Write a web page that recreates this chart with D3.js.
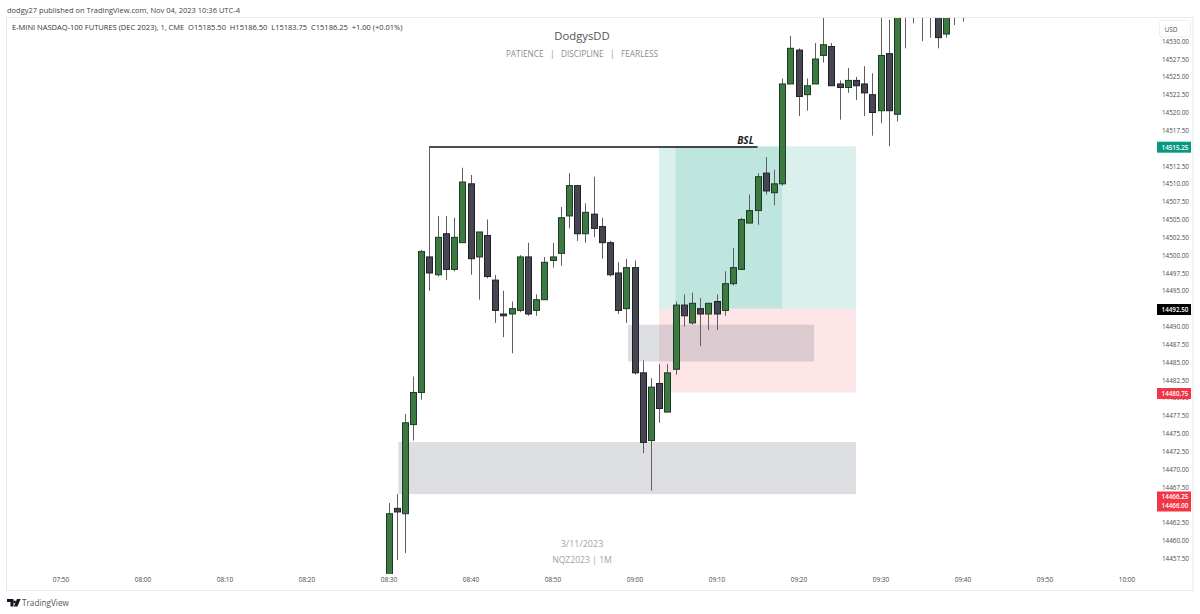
<!DOCTYPE html>
<html><head><meta charset="utf-8">
<script src="https://cdn.jsdelivr.net/npm/d3@7/dist/d3.min.js"></script>
<style>html,body{margin:0;padding:0;background:#fff;overflow:hidden}svg{display:block}text{font-family:"Open Sans",sans-serif}</style>
</head><body><svg id="c" width="1200" height="614"></svg>
<script>
const startMinute = 510; // 08:30
const opens = [14455,14464.5,14463.75,14476.25,14480.75,14499.75,14497.25,14503,14498,14501.75,14510,14499.75,14502.75,14496.5,14491.75,14491.75,14492.25,14499.75,14492.25,14493.75,14499.25,14500.25,14505.5,14509.75,14503,14505.75,14504,14501.75,14497.5,14492.5,14498.25,14483.5,14474,14482,14478,14484,14493,14490.5,14492.5,14491.75,14493.5,14492.25,14496,14498,14504.5,14506.25,14511.5,14508.75,14510,14524,14528.75,14522.5,14524,14528,14529.25,14524,14523.5,14524.5,14524,14522.5,14520.25,14528.25,14519.75,14537,14534,14535,14534.5,14535,14531,14534,14536];
const highs = [14465.25,14466.5,14477.75,14483,14500.75,14515.25,14505.5,14505.5,14505.25,14512.25,14511.25,14503.25,14505,14497.25,14495,14493.5,14500,14501.75,14494.5,14499.75,14501.75,14506.75,14511.5,14509.75,14507.25,14511,14505.25,14502,14499,14499.5,14499.25,14485.25,14482.75,14484.75,14484.75,14493.5,14494.5,14494.75,14494,14493.25,14494.5,14497.75,14501,14505.25,14508.5,14511.5,14513.75,14512,14524.75,14530.75,14529,14524.75,14529.75,14534,14529.75,14524.5,14526.25,14525,14526.5,14525.5,14536,14533,14538,14538,14537,14537,14537,14536,14536,14537,14537];
const lows = [14453,14457.25,14458.25,14474,14479.75,14495,14497,14496.5,14497.75,14501.75,14497.25,14493.75,14496.75,14490.5,14488.5,14486.25,14492,14491.5,14491.5,14493.75,14498.25,14498.5,14503.75,14502,14501.75,14502.5,14499.5,14497,14491.75,14490.5,14483.25,14472.25,14467,14476.5,14478,14483.25,14490,14490.25,14487.25,14489.5,14489.5,14491.5,14495.75,14498,14504.5,14504.25,14508.5,14507,14509.75,14524,14519.5,14520.25,14524,14527,14523.75,14519,14522.75,14521.75,14519.5,14516.75,14518.5,14515.25,14518.75,14529,14532.5,14530,14530.5,14529,14530.5,14532.25,14532.75];
const closes = [14463.75,14464,14476.5,14480.75,14500.5,14497.5,14502.5,14498,14502.5,14510.25,14499.5,14503.25,14497,14492.25,14491.5,14492.5,14499.75,14491.75,14493.75,14499,14499.75,14505.25,14509.75,14503,14506,14503.75,14501.75,14497.25,14492.25,14498.25,14483.5,14473.75,14481.5,14478.5,14483.5,14493,14491.5,14493.25,14491.75,14493.25,14491.75,14496,14498.25,14505,14506.25,14511,14509,14510,14524,14529,14522.25,14523.75,14527.5,14529.5,14523.75,14523.5,14524.5,14523.75,14522.75,14520,14528,14520.25,14536,14534.5,14536,14536.5,14536,14530.5,14535,14536,14534];

const priceTicks = [14530,14527.5,14525,14522.5,14520,14517.5,14512.5,14510,14507.5,14505,14502.5,14500,14497.5,14495,14490,14487.5,14485,14482.5,14480,14477.5,14475,14472.5,14470,14467.5,14462.5,14460,14457.5];
const timeTicks = [470,480,490,500,510,520,530,540,550,560,570,580,590,600];

// zones: [fromMinute, toMinute, topPrice, bottomPrice]
const profitZone = [543,567,14515.25,14492.5];
const profitInner = [545,558,14515.25,14492.5];
const stopZone = [543,567,14492.5,14480.75];
const greyZoneA = [539.2,561.9,14490.25,14485.1];
const greyZoneB = [511.2,567,14473.8,14466.5];
const bslLine = [515,555,14515.25];

const priceTags = [[14515.25,"#089981",147.2],[14492.5,"#000000",309.5],[14480.75,"#f23645",393.5],[14466.25,"#f23645",497],[14466,"#f23645",506]];

const svg = d3.select("#c");
const x = d3.scaleLinear().domain([510,600]).range([388.5,1126.5]);
const y = d3.scaleLinear().domain([14527.5,14457.5]).range([59,558.3]);

// frame
svg.append("rect").attr("x",6.5).attr("y",17.5).attr("width",1186.5).attr("height",573).attr("fill","#fff").attr("stroke","#e9e9ec");

const defs = svg.append("defs");
defs.append("clipPath").attr("id","pane").append("rect").attr("x",7).attr("y",18).attr("width",1150).attr("height",556);
const pane = svg.append("g").attr("clip-path","url(#pane)");

function zone(z,fill){
  pane.append("rect").attr("x",x(z[0])).attr("width",x(z[1])-x(z[0])).attr("y",y(z[2])).attr("height",y(z[3])-y(z[2])).attr("fill",fill);
}
zone(greyZoneB,"rgba(120,123,134,0.25)");
zone(profitZone,"rgba(8,153,129,0.15)");
zone(profitInner,"rgba(8,153,129,0.13)");
zone(stopZone,"rgba(242,54,69,0.13)");
zone(greyZoneA,"rgba(120,123,134,0.25)");

const candles = opens.map((o,i)=>({t:startMinute+i,o,h:highs[i],l:lows[i],c:closes[i]}));
const g = pane.selectAll("g.c").data(candles).join("g").attr("class","c");
g.append("line").attr("x1",d=>Math.round(x(d.t))+.5).attr("x2",d=>Math.round(x(d.t))+.5)
 .attr("y1",d=>y(d.h)).attr("y2",d=>y(d.l)).attr("stroke","#606064").attr("stroke-width",1);
g.append("rect").attr("x",d=>Math.round(x(d.t))-2.5).attr("width",6)
 .attr("y",d=>y(Math.max(d.o,d.c))).attr("height",d=>Math.max(1.5,Math.abs(y(d.o)-y(d.c))))
 .attr("fill",d=>d.c>=d.o?"#3c7a41":"#454652").attr("stroke",d=>d.c>=d.o?"#1f3a24":"#1f1f28").attr("stroke-width",1);

pane.append("line").attr("x1",x(bslLine[0])).attr("x2",x(bslLine[1])).attr("y1",y(bslLine[2])+.5).attr("y2",y(bslLine[2])+.5).attr("stroke","#111").attr("stroke-width",1.5);
pane.append("text").attr("x",745.5).attr("y",144).attr("text-anchor","middle").attr("font-size",10).attr("font-weight",700).attr("font-style","italic").attr("fill","#222").text("BSL");

// watermark
const wm = [["DodgysDD",582,40,11.3,"#555"],["PATIENCE   |   DISCIPLINE   |   FEARLESS",582,57,8.25,"#8b8b92"],["3/11/2023",582,547,9,"#a2a2a8"],["NQZ2023 | 1M",582,563,8.6,"#a2a2a8"]];
wm.forEach(w=>svg.append("text").attr("x",w[1]).attr("y",w[2]).attr("text-anchor","middle").attr("font-size",w[3]).attr("fill",w[4]).style("white-space","pre").text(w[0]));

// axes
const fmtTime = m => String(Math.floor(m/60)).padStart(2,"0")+":"+String(m%60).padStart(2,"0");
const ax = svg.append("g").attr("transform","translate(0,574)").call(d3.axisBottom(x).tickValues(timeTicks).tickFormat(fmtTime).tickSize(0).tickPadding(3));
ax.select(".domain").remove();
ax.selectAll("text").attr("font-size",6.5).attr("fill","#4a4a50").style("font-family","'Open Sans',sans-serif");
const ay = svg.append("g").attr("transform","translate(1162,0)").call(d3.axisRight(y).tickValues(priceTicks).tickFormat(d3.format(".2f")).tickSize(0).tickPadding(0));
ay.select(".domain").remove();
ay.selectAll("text").attr("font-size",6.3).attr("fill","#4a4a50").style("font-family","'Open Sans',sans-serif");

// USD box sits over the top tick, as in the platform
svg.append("rect").attr("x",1158).attr("y",19).attr("width",34).attr("height",19.5).attr("fill","#fff");
svg.append("rect").attr("x",1159.5).attr("y",20.5).attr("width",31).attr("height",16.5).attr("rx",2).attr("fill","#fff").attr("stroke","#eceef0");
svg.append("text").attr("x",1171).attr("y",31.5).attr("text-anchor","middle").attr("font-size",6.5).attr("fill","#555").text("USD");

// tags
priceTags.forEach(t=>{
  svg.append("rect").attr("x",1157).attr("y",t[2]-5.5).attr("width",34).attr("height",11).attr("fill",t[1]);
  svg.append("text").attr("x",1175).attr("y",t[2]+2.3).attr("text-anchor","middle").attr("font-size",6.3).attr("font-weight",600).attr("fill","#fff").text(d3.format(".2f")(t[0]));
});

// header
svg.append("text").attr("x",7).attr("y",12.5).attr("font-size",7.5).attr("fill","#444").text("dodgy27 published on TradingView.com, Nov 04, 2023 10:36 UTC-4");
svg.append("text").attr("x",12).attr("y",30).attr("font-size",7.5).attr("fill","#333").style("white-space","pre").text("E-MINI NASDAQ-100 FUTURES (DEC 2023), 1, CME  O15185.50  H15186.50  L15183.75  C15186.25  +1.00 (+0.01%)");

// footer
svg.append("path").attr("d","M7 599h6.5v7.5h-3v-4.5H7zM14.5 600.5a1.4 1.4 0 1 0 .01 0zM17 599h3.6l-3.2 7.5h-3.6z").attr("fill","#131722");
svg.append("text").attr("x",22).attr("y",605.5).attr("font-size",8.2).attr("fill","#555").text("TradingView");
</script></body></html>
